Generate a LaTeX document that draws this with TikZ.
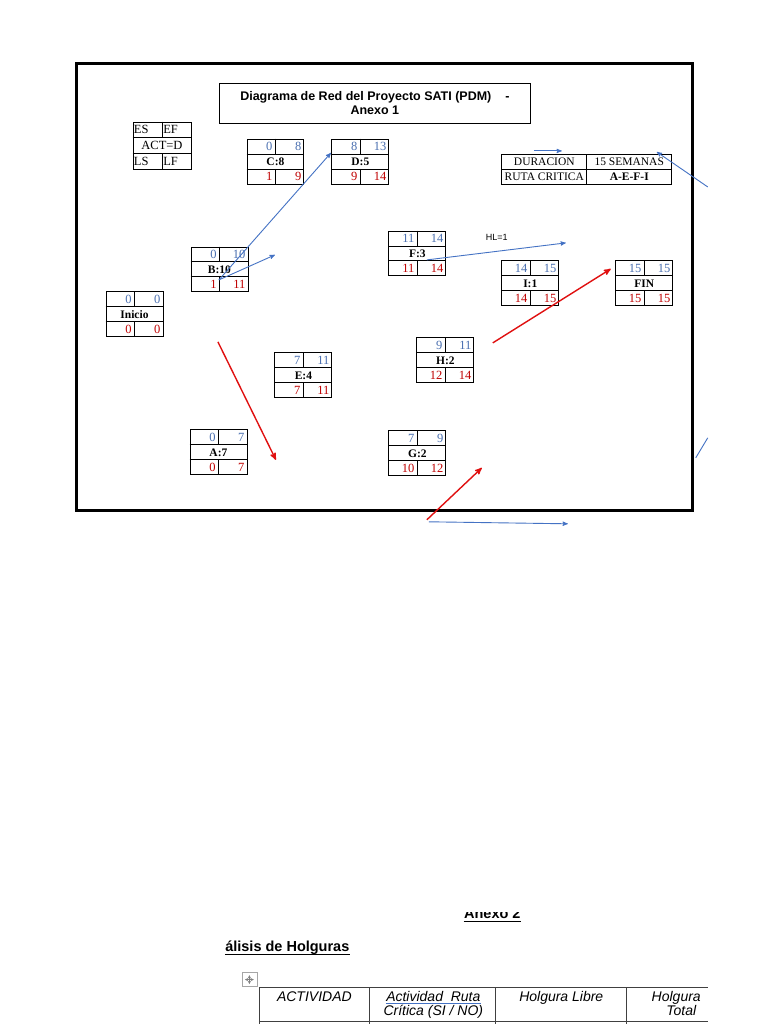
\documentclass[tikz,border=0pt]{standalone}
\usepackage{fontspec}
\setmainfont{Liberation Serif}
\newfontfamily\arialfont{Liberation Sans}
\usetikzlibrary{%
  arrows,%
  positioning,% wg. " of "
  calc%
}
\definecolor{numblue}{HTML}{4A6FB0}
\definecolor{numred}{HTML}{C00000}
\definecolor{arrblue}{HTML}{4472C4}
\definecolor{arrred}{HTML}{E01010}

\begin{document}
\begin{tikzpicture}
  [
  x=1pt, y=-1pt,
  font=\fontsize{11.5}{13}\selectfont, >=stealth', line width=0.8pt,
  actbox/.style={rectangle, minimum width=57pt, minimum height=45pt, inner sep=0pt, draw=black, font=\fontsize{11.5}{13}\selectfont\bfseries},
  esnum/.style={anchor=east, inner sep=2.5pt, text=numblue, font=\fontsize{12.5}{13}\selectfont},
  lsnum/.style={anchor=east, inner sep=2.5pt, text=numred, font=\fontsize{12.5}{13}\selectfont},
  legtext/.style={anchor=west, inner sep=1pt, font=\fontsize{12.5}{13}\selectfont},
  cell/.style={rectangle, minimum width=85pt, minimum height=15pt, inner sep=0pt, outer sep=0pt, draw=black},
  bluearrow/.style={->, draw=arrblue, line width=0.9pt},
  redarrow/.style={->, draw=arrred, line width=1.4pt},
  heading/.style={anchor=base west, inner sep=0pt, font=\arialfont\bfseries\fontsize{14.5}{16}\selectfont},
  hdr/.style={anchor=base, inner sep=0pt, font=\arialfont\itshape\fontsize{14}{16}\selectfont},
  tblline/.style={draw=black!75, line width=0.8pt}
  ]

\fill[white] (0,0) rectangle (768,1024);

% frame
\draw[line width=3pt] (77,64) rectangle (693,511);

\node[draw, minimum width=312pt, minimum height=40pt, align=center, inner sep=0pt,
  font=\arialfont\bfseries\fontsize{12.5}{14}\selectfont] (title) at (375,103)
  {Diagrama de Red del Proyecto SATI (PDM) \ \ \ -\\Anexo 1};

% legend
\node[rectangle, draw, minimum width=58pt, minimum height=47pt, inner sep=0pt, font=\fontsize{12.5}{13}\selectfont] (legend) at (162,145.5) {ACT=D};
\draw ([yshift=7.8pt]legend.west) -- ([yshift=7.8pt]legend.east);
\draw ([yshift=-7.8pt]legend.west) -- ([yshift=-7.8pt]legend.east);
\draw (legend.north) -- ([yshift=7.8pt]legend.center);
\draw ([yshift=-7.8pt]legend.center) -- (legend.south);
\node[legtext] (leg-es) at ([yshift=15.6pt]legend.west) {ES};
\node[legtext] (leg-ef) at ([yshift=15.6pt]legend.center) {EF};
\node[legtext] (leg-ls) at ([yshift=-15.6pt]legend.west) {LS};
\node[legtext] (leg-lf) at ([yshift=-15.6pt]legend.center) {LF};

% activities
\foreach \n/\x/\y/\es/\ef/\act/\ls/\lf in {Inicio/106/292/0/0/Inicio/0/0,
  B/191/247/0/10/B:10/1/11, C/247/139/0/8/C:8/1/9, D/332/139/8/13/D:5/9/14,
  F/389/231/11/14/F:3/11/14, I/502/261/14/15/I:1/14/15, FIN/616/261/15/15/FIN/15/15,
  E/275/353/7/11/E:4/7/11, H/417/338/9/11/H:2/12/14, A/190/430/0/7/A:7/0/7,
  G/389/431/7/9/G:2/10/12} {
  \node[actbox] (\n) at (\x+28.5,\y+22.5) {\act};
  \draw ([yshift=7.5pt]\n.west) -- ([yshift=7.5pt]\n.east);
  \draw ([yshift=-7.5pt]\n.west) -- ([yshift=-7.5pt]\n.east);
  \draw (\n.north) -- ([yshift=7.5pt]\n.center);
  \draw ([yshift=-7.5pt]\n.center) -- (\n.south);
  \node[esnum] (\n-es) at ([yshift=15pt]\n.center) {\es};
  \node[esnum] (\n-ef) at ([yshift=15pt]\n.east) {\ef};
  \node[lsnum] (\n-ls) at ([yshift=-15pt]\n.center) {\ls};
  \node[lsnum] (\n-lf) at ([yshift=-15pt]\n.east) {\lf};
}

% duration table
\node[cell] (dur-l) at (544.5,161.5) {DURACION};
\node[cell, right=0pt of dur-l] (dur-r) {15 SEMANAS};
\node[cell, below=0pt of dur-l] (ruta-l) {RUTA CRITICA};
\node[cell, right=0pt of ruta-l, font=\fontsize{11.5}{13}\selectfont\bfseries] (ruta-r) {A-E-F-I};

\node[inner sep=0pt, font=\arialfont\fontsize{9}{10}\selectfont] (hl) at (497,237) {HL=1};

% connectors
\coordinate (b-from) at (219,280);
\coordinate (d-to) at (331,153);
\coordinate (b-to) at (275,255);
\coordinate (f-from) at (427,260);
\coordinate (hl-to) at (566,243);
\coordinate (dur-from) at (534,151);
\coordinate (dur-to) at (562,151);
\coordinate (out-from) at (708,187);
\coordinate (out-to) at (657,152);
\coordinate (edge-from) at (696,458);
\coordinate (edge-to) at (708,438);
\coordinate (low-from) at (429,522);
\coordinate (low-to) at (568,524);
\coordinate (a-from) at (218,342);
\coordinate (a-to) at (276,460);
\coordinate (h-from) at (493,343);
\coordinate (fin-to) at (611,269);
\coordinate (g-from) at (427,520);
\coordinate (g-to) at (482,468);

\draw[bluearrow] (b-from) -- (d-to);
\draw[bluearrow] (b-from) -- (b-to);
\draw[bluearrow] (f-from) -- (hl-to);
\draw[bluearrow] (dur-from) -- (dur-to);
\draw[bluearrow] (out-from) -- (out-to);
\draw[draw=arrblue, line width=0.9pt] (edge-from) -- (edge-to);
\draw[bluearrow] (low-from) -- (low-to);
\draw[redarrow] (a-from) -- (a-to);
\draw[redarrow] (h-from) -- (fin-to);
\draw[redarrow] (g-from) -- (g-to);

% annex 2
\begin{scope}
  \clip (440,912.5) rectangle (560,930);
  \node[heading, anchor=base] (anexo) at (492.5,918.5) {Anexo 2};
  \draw[line width=1.3pt] ([yshift=-3.5pt]anexo.base west) -- ([yshift=-3.5pt]anexo.base east);
\end{scope}
\node[heading] (holg) at (225,952) {álisis de Holguras};
\draw[line width=1.3pt] ([yshift=-3.2pt]holg.base west) -- ([yshift=-3.2pt]holg.base east);

% table move icon
\draw[black!35, line width=0.6pt] (242,973) rectangle (257,987);
\draw[black!50, line width=0.5pt, <->, >=stealth] (245,980) -- (254,980);
\draw[black!50, line width=0.5pt, <->, >=stealth] (249.5,975.5) -- (249.5,984.5);

% table header
\draw[tblline] (259,988) -- (708,988);
\draw[tblline] (259,1022) -- (708,1022);
\foreach \c in {259,370,496,627} {
  \draw[tblline] (\c,988) -- (\c,1024);
}
\node[hdr] (h-act) at (314.5,1002) {ACTIVIDAD};
\node[hdr] (h-ruta) at (433.5,1002) {Actividad\ \ Ruta};
\draw[draw=arrblue, line width=0.8pt] ([yshift=-1.8pt]h-ruta.base west) -- ([yshift=-1.8pt]h-ruta.base east);
\node[hdr] (h-crit) at (433.5,1016) {Crítica (SI / NO)};
\node[hdr] (h-libre) at (561.5,1002) {Holgura Libre};
\node[hdr] (h-holg) at (676.5,1002) {Holgura};
\node[hdr] (h-total) at (681.5,1016) {Total};

\end{tikzpicture}
\end{document}
